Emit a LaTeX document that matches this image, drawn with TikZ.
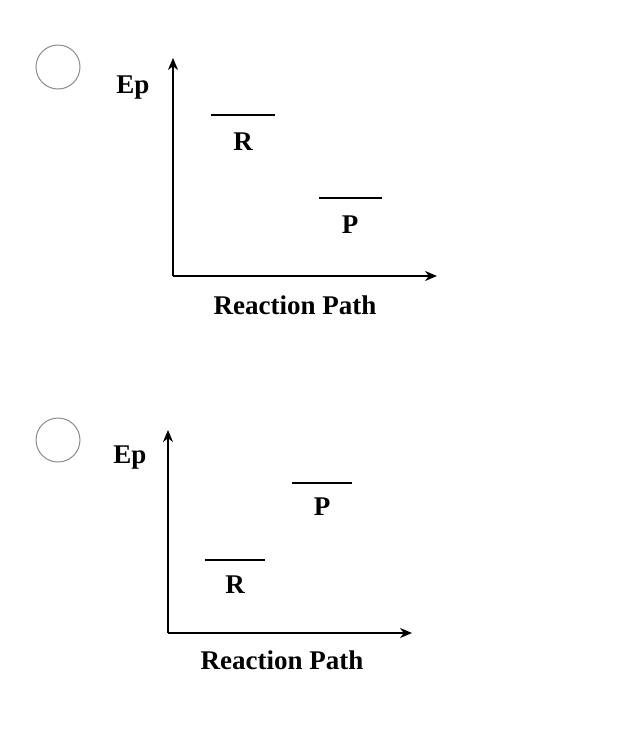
\documentclass[tikz,border=0pt]{standalone}
\usepackage{fontspec}
\setmainfont{Liberation Serif}
\usetikzlibrary{arrows.meta}
\begin{document}
\begin{tikzpicture}[x=1pt,y=-1pt,
  lbl/.style={font=\bfseries\fontsize{27}{30}\selectfont,inner sep=0pt},
  axis/.style={line width=2.2pt,-{Stealth[length=12pt,width=10pt]}},
  lvl/.style={line width=2.2pt},
  radio/.style={circle,draw=black!45,line width=1pt,minimum size=44pt,inner sep=0pt}]
\useasboundingbox (0,0) rectangle (632,740);
% first
\node[radio] (c1) at (58,67) {};
\node[lbl] (ep1) at (133,88) {Ep};
\coordinate (o1) at (173,276);
\coordinate (y1) at (173,58);
\coordinate (x1) at (437,276);
\draw[axis] (o1) -- (y1);
\draw[axis] (o1) -- (x1);
\coordinate (r1a) at (211,115); \coordinate (r1b) at (275,115);
\draw[lvl] (r1a) -- (r1b);
\node[lbl] (r1) at (243,142) {R};
\coordinate (p1a) at (319,198); \coordinate (p1b) at (382,198);
\draw[lvl] (p1a) -- (p1b);
\node[lbl] (p1) at (350,225) {P};
\node[lbl] (rp1) at (295,305) {Reaction Path};
% second
\node[radio] (c2) at (58,440) {};
\node[lbl] (ep2) at (130,458) {Ep};
\coordinate (o2) at (168,633);
\coordinate (y2) at (168,430);
\coordinate (x2) at (412,633);
\draw[axis] (o2) -- (y2);
\draw[axis] (o2) -- (x2);
\coordinate (p2a) at (292,483); \coordinate (p2b) at (352,483);
\draw[lvl] (p2a) -- (p2b);
\node[lbl] (p2) at (322,507) {P};
\coordinate (r2a) at (205,560); \coordinate (r2b) at (265,560);
\draw[lvl] (r2a) -- (r2b);
\node[lbl] (r2) at (235,585) {R};
\node[lbl] (rp2) at (282,660) {Reaction Path};
\end{tikzpicture}
\end{document}
